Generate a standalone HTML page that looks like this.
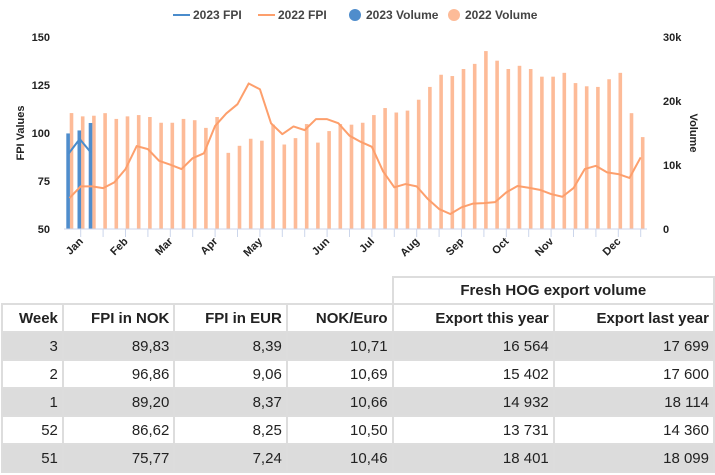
<!DOCTYPE html>
<html><head><meta charset="utf-8"><style>
body{margin:0;width:715px;height:475px;background:#fff;font-family:"Liberation Sans",sans-serif;overflow:hidden;position:relative}
svg{position:absolute;left:0;top:0}
table{position:absolute;left:1px;top:276px;border-collapse:collapse;font-size:15px;color:#222}
td,th{border:2px solid #ddd;padding:0 4px;text-align:right;height:26px}
th{font-weight:bold}
tr.s td{background:#dcdcdc}
</style></head><body>
<svg id="chart" width="715" height="270" xmlns="http://www.w3.org/2000/svg"></svg>
<table>
<tr><th style="border:none;width:53px"></th><th style="border:none;width:104px"></th><th style="border:none;width:105px"></th><th style="border:none;width:97px;border-right:2px solid #ddd"></th><th colspan="2" style="text-align:center;height:25px">Fresh HOG export volume</th></tr>
<tr><th>Week</th><th>FPI in NOK</th><th>FPI in EUR</th><th>NOK/Euro</th><th style="width:152px">Export this year</th><th style="width:151px">Export last year</th></tr>
<tr class="s"><td>3</td><td>89,83</td><td>8,39</td><td>10,71</td><td>16 564</td><td>17 699</td></tr>
<tr><td>2</td><td>96,86</td><td>9,06</td><td>10,69</td><td>15 402</td><td>17 600</td></tr>
<tr class="s"><td>1</td><td>89,20</td><td>8,37</td><td>10,66</td><td>14 932</td><td>18 114</td></tr>
<tr><td>52</td><td>86,62</td><td>8,25</td><td>10,50</td><td>13 731</td><td>14 360</td></tr>
<tr class="s"><td>51</td><td>75,77</td><td>7,24</td><td>10,46</td><td>18 401</td><td>18 099</td></tr>
</table>
<script>
const fpi2023=[89.2,96.86,89.83];
const vol2023=[14932,15402,16564];
const fpi2022=[66.1,72.2,72.2,71.3,74.3,81.2,93.2,91.6,85.5,83.5,81.2,86.9,89.4,103.7,110.2,115.0,125.8,122.8,105.0,99.4,103.4,101.5,107.2,107.2,105.1,98.6,95.4,92.8,80.0,71.7,73.4,72.2,65.6,60.4,57.8,61.3,63.2,63.5,64.0,69.1,72.4,71.5,70.4,68.2,66.8,71.3,81.2,82.9,79.5,78.6,76.6,87.3];
const vol2022=[18114,17600,17699,18100,17200,17600,17800,17500,16600,16600,17200,17000,15800,17500,11900,13000,14100,13800,16300,13200,14200,16400,13500,15300,16400,16300,16600,17800,18900,18200,18500,20200,22200,24100,23900,25000,25800,27800,26300,25000,25500,25000,23800,23800,24400,22800,22300,22200,23400,24400,18099,14360];
const monthLabels=["Jan","Feb","Mar","Apr","May","Jun","Jul","Aug","Sep","Oct","Nov","Dec"];
const monthWeeks=[1,5,9,13,17,23,27,31,35,39,43,49];
const leftTicks=[50,75,100,125,150];
const rightTicks=[0,10000,20000,30000];
const rightTickLabels=["0","10k","20k","30k"];

const NS="http://www.w3.org/2000/svg";
const svg=document.getElementById('chart');
const X0=69.5,DX=11.2,Y0=229,Y1=37;
const xs=i=>X0+DX*i;
const yL=v=>Y0-(v-50)/100*(Y0-Y1);
const yR=v=>Y0-v/30000*(Y0-Y1);
function mk(t,a,p){const e=document.createElementNS(NS,t);for(const k in a)e.setAttribute(k,a[k]);(p||svg).appendChild(e);return e;}

let t=mk('text',{x:0,y:0,transform:'translate(24,133) rotate(-90)','text-anchor':'middle','font-size':11,'font-weight':'bold',fill:'#222'});
t.textContent='FPI Values';


t=mk('text',{x:0,y:0,transform:'translate(690,133) rotate(90)','text-anchor':'middle','font-size':11,'font-weight':'bold',fill:'#222'});
t.textContent='Volume';



leftTicks.forEach(v=>{const e=mk('text',{x:50,y:yL(v)+4,'text-anchor':'end','font-size':11,'font-weight':'bold',fill:'#222'});e.textContent=v;

});
rightTicks.forEach((v,i)=>{const e=mk('text',{x:663,y:yR(v)+4,'font-size':11,'font-weight':'bold',fill:'#222'});e.textContent=rightTickLabels[i];

});

vol2022.forEach((v,i)=>{const b=mk('rect',{x:xs(i)+0.2,y:yR(v),width:3.6,height:Y0-yR(v),fill:'#fdbb98'});

});
vol2023.forEach((v,i)=>{const b=mk('rect',{x:xs(i)-3.2,y:yR(v),width:3.6,height:Y0-yR(v),fill:'#4f8dcc'});

});

let ax=mk('line',{x1:64,x2:647,y1:Y0,y2:Y0,stroke:'#ccd6eb','stroke-width':1});


for(let i=1;i<52;i+=2){mk('line',{x1:xs(i),x2:xs(i),y1:Y0,y2:Y0+8,stroke:'#ccd6eb'});}
monthLabels.forEach((m,k)=>{const x=xs(monthWeeks[k]);const e=mk('text',{x:0,y:0,transform:`translate(${x+3},${Y0+13}) rotate(-45)`,'text-anchor':'end','font-size':11,'font-weight':'bold',fill:'#222'});e.textContent=m;

});

let l=mk('polyline',{points:fpi2022.map((v,i)=>xs(i)+','+yL(v)).join(' '),fill:'none',stroke:'#fd9f6c','stroke-width':2,'stroke-linejoin':'round'});


l=mk('polyline',{points:fpi2023.map((v,i)=>(xs(i)-1)+','+yL(v)).join(' '),fill:'none',stroke:'#4a8ccc','stroke-width':2,'stroke-linejoin':'round'});



const lg=[['2023 FPI','line','#4a8ccc',173],['2022 FPI','line','#fd9f6c',258],['2023 Volume','dot','#4f8dcc',349],['2022 Volume','dot','#fdbb98',448]];
lg.forEach(([name,kind,c,x])=>{const g=mk('g',{});


if(kind==='line')mk('line',{x1:x,x2:x+17,y1:15,y2:15,stroke:c,'stroke-width':2},g);else mk('circle',{cx:x+6,cy:15,r:6,fill:c},g);
const e=mk('text',{x:x+(kind==='line'?20:17),y:19,'font-size':12,'font-weight':'bold',fill:'#444'},g);e.textContent=name;});
</script>
</body></html>
